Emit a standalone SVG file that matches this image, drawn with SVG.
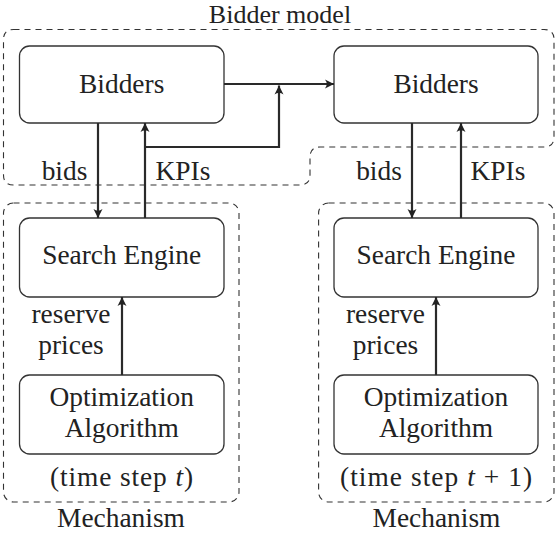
<svg xmlns="http://www.w3.org/2000/svg" width="557" height="533" viewBox="0 0 557 533">
<style>
text{font-family:"Liberation Serif",serif;font-size:27.4px;fill:#222;text-anchor:middle}
.box{fill:#fff;stroke:#333;stroke-width:1.3}
.dash{fill:none;stroke:#333;stroke-width:1.1;stroke-dasharray:6 5}
.ar{fill:none;stroke:#2a2a2a;stroke-width:2.2}
.it{font-style:italic}
</style>
<defs>
<marker id="ah" viewBox="-10 -5 11 10" refX="0" refY="0" markerWidth="11" markerHeight="10" markerUnits="userSpaceOnUse" orient="auto">
<path d="M0,0 L-9,-4.5 Q-5.5,0 -9,4.5 Z" fill="#222"/>
</marker>
</defs>
<g font-family="Liberation Serif">
<g id="bidder-model">
<path class="dash" d="M13.5,29.5 H544 Q554,29.5 554,39.5 V137 Q554,147 544,147 H320 Q310,147 310,157 V175 Q310,185 300,185 H13.5 Q3.5,185 3.5,175 V39.5 Q3.5,29.5 13.5,29.5 Z"/>
<text x="280" y="22.5" style="font-size:26px">Bidder model</text>
</g>
<g id="mechanism-left">
<rect class="dash" x="3.5" y="203" width="235.5" height="299" rx="10"/>
<text x="121" y="526.5">Mechanism</text>
<text x="121.5" y="486" textLength="143" lengthAdjust="spacing">(time step <tspan class="it">t</tspan>)</text>
</g>
<g id="mechanism-right">
<rect class="dash" x="318.6" y="203" width="235.4" height="299" rx="10"/>
<text x="436.5" y="526.5">Mechanism</text>
<text x="436" y="486" textLength="192" lengthAdjust="spacing">(time step <tspan class="it">t</tspan>&#160;+&#160;1)</text>
</g>
<g id="bidders-left">
<rect class="box" x="19.5" y="46" width="204.5" height="77" rx="10"/>
<text x="121.7" y="93">Bidders</text>
</g>
<g id="bidders-right">
<rect class="box" x="334" y="46" width="204" height="77" rx="10"/>
<text x="436" y="93">Bidders</text>
</g>
<g id="search-left">
<rect class="box" x="19.5" y="218" width="204.5" height="79" rx="10"/>
<text x="121.7" y="264">Search Engine</text>
</g>
<g id="search-right">
<rect class="box" x="334" y="218" width="204" height="79" rx="10"/>
<text x="436" y="264">Search Engine</text>
</g>
<g id="opt-left">
<rect class="box" x="19.5" y="375" width="204.5" height="79" rx="10"/>
<text x="121.7" y="406">Optimization</text>
<text x="121.7" y="437">Algorithm</text>
</g>
<g id="opt-right">
<rect class="box" x="334" y="375" width="204" height="79" rx="10"/>
<text x="436" y="406">Optimization</text>
<text x="436" y="437">Algorithm</text>
</g>
<g id="connectors">
<line class="ar" x1="224" y1="84" x2="334" y2="84" marker-end="url(#ah)"/>
<polyline class="ar" points="145,147 279,147 279,85.5" marker-end="url(#ah)"/>
<line class="ar" x1="98" y1="123" x2="98" y2="218" marker-end="url(#ah)"/>
<line class="ar" x1="145" y1="218" x2="145" y2="123" marker-end="url(#ah)"/>
<line class="ar" x1="412" y1="123" x2="412" y2="218" marker-end="url(#ah)"/>
<line class="ar" x1="461" y1="218" x2="461" y2="123" marker-end="url(#ah)"/>
<line class="ar" x1="122" y1="375" x2="122" y2="297" marker-end="url(#ah)"/>
<line class="ar" x1="436" y1="375" x2="436" y2="297" marker-end="url(#ah)"/>
<text x="64.5" y="180">bids</text>
<text x="183" y="180">KPIs</text>
<text x="379" y="180">bids</text>
<text x="498" y="180">KPIs</text>
<text x="71" y="323">reserve</text>
<text x="71" y="354">prices</text>
<text x="385.5" y="323">reserve</text>
<text x="385.5" y="354">prices</text>
</g>
</g>
</svg>
